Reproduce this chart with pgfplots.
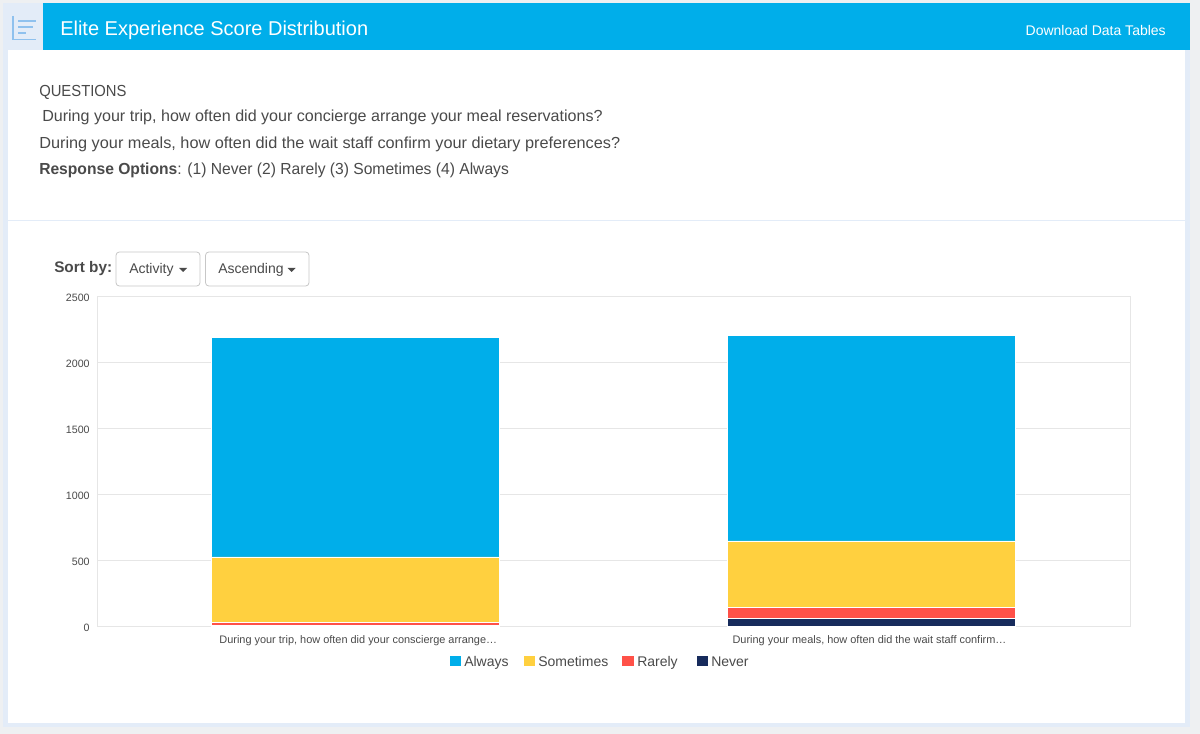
\documentclass[border=0pt]{standalone}
\usepackage{pgfplots}
\usepackage{fontspec}
\setmainfont{Liberation Sans}
\pgfplotsset{compat=1.18}
\definecolor{hdr}{HTML}{00AEEA}
\definecolor{yel}{HTML}{FFD03F}
\definecolor{redd}{HTML}{FF5148}
\definecolor{navy}{HTML}{172B5C}
\definecolor{framec}{HTML}{E3ECF8}
\definecolor{outer}{HTML}{EEF0F2}
\definecolor{txt}{HTML}{4A4A4A}
\definecolor{gridc}{HTML}{E6E6E6}
\definecolor{ico}{HTML}{8FC1EE}
\pgfplotstableread{
x never rarely sometimes always
0 5 25 493 1662
1 60 80 504 1556
}\datatable
\begin{document}
\begin{tikzpicture}[x=0.75pt,y=-0.75pt]
% page
\fill[outer] (0,0) rectangle (1200,734);
\fill[framec] (3,3) rectangle (1190,727);
\fill[white] (8,50) rectangle (1185,722.5);
\fill[hdr] (43,3) rectangle (1190,50);
% icon
\draw[ico,line width=0.9pt] (13,16) -- (13,39.5) -- (36,39.5);
\draw[ico,line width=2pt] (18,21) -- (36,21);
\draw[ico,line width=2pt] (18,27) -- (33,27);
\draw[ico,line width=2pt] (18,33) -- (26,33);
% header
\node[anchor=base west,white,inner sep=0,font=\fontsize{15}{18}\selectfont] at (60,36) {Elite Experience Score Distribution};
\node[anchor=base east,white,inner sep=0,font=\fontsize{10.5}{13}\selectfont] at (1166,36) {Download Data Tables};
% questions
\begin{scope}[every node/.style={anchor=base west,inner sep=0,text=txt,font=\fontsize{12}{14}\selectfont}]
\node at (39,96.5) {\scalebox{0.926}[1]{QUESTIONS}};
\node at (42,121.5) {\scalebox{1.005}[1]{During your trip, how often did your concierge arrange your meal reservations?}};
\node at (39,148.5) {\scalebox{1.018}[1]{During your meals, how often did the wait staff confirm your dietary preferences?}};
\node at (39,174.5) {\scalebox{0.977}[1]{\textbf{Response Options}: (1) Never (2) Rarely (3) Sometimes (4) Always}};
\node[font=\fontsize{11.5}{14}\selectfont\bfseries] at (54,272.5) {Sort by:};
\end{scope}
\draw[framec] (8,220.5) -- (1185,220.5);
% buttons
\draw[draw=black!22,rounded corners=2.5pt,line width=0.6pt] (116,252) rectangle (200,286);
\draw[draw=black!22,rounded corners=2.5pt,line width=0.6pt] (205.5,252) rectangle (309,286);
\node[anchor=base west,inner sep=0,text=txt,font=\fontsize{10.5}{13}\selectfont] at (129,274) {Activity};
\node[anchor=base west,inner sep=0,text=txt,font=\fontsize{10.5}{13}\selectfont] at (218,274) {Ascending};
\fill[txt] (179,268) -- (187,268) -- (183,272) -- cycle;
\fill[txt] (287.5,268) -- (295.5,268) -- (291.5,272) -- cycle;
% chart
\begin{axis}[
  at={(72.75pt,-469.5pt)},anchor=south west,
  scale only axis,width=774.75pt,height=247.5pt,
  xmin=-0.5,xmax=1.5,ymin=0,ymax=2500,
  ybar stacked,bar width=216pt,
  axis line style={draw=gridc},
  ytick={0,500,1000,1500,2000,2500},
  xtick={0,1},
  xticklabels={{\hspace*{4.5pt}During your trip, how often did your conscierge arrange\ldots},{During your meals, how often did the wait staff confirm\ldots\hspace*{3.4pt}}},
  x tick label style={font=\fontsize{8.2}{9}\selectfont,text=txt,yshift=-4pt},
  y tick label style={font=\fontsize{8}{9}\selectfont,text=txt,xshift=-2pt,yshift=-1.2pt},
  /pgf/number format/assume math mode=true,
  /pgf/number format/1000 sep={},
  scaled y ticks=false,
  ymajorgrids,grid style={draw=gridc},
  tick style={draw=none},
  major tick length=0pt,
  clip=false,
]
\addplot[fill=navy,draw=white,line width=0.4pt] table[x=x,y=never]{\datatable};
\addplot[fill=redd,draw=white,line width=0.4pt] table[x=x,y=rarely]{\datatable};
\addplot[fill=yel,draw=white,line width=0.4pt] table[x=x,y=sometimes]{\datatable};
\addplot[fill=hdr,draw=white,line width=0.4pt] table[x=x,y=always]{\datatable};
\end{axis}
% legend
\begin{scope}[every node/.style={anchor=base west,inner sep=0,text=txt,font=\fontsize{10.5}{13}\selectfont}]
\fill[hdr] (450,656) rectangle (461,666); \node at (464,666) {Always};
\fill[yel] (524,656) rectangle (535,666); \node at (538,666) {Sometimes};
\fill[redd] (622,656) rectangle (634,666); \node at (637,666) {Rarely};
\fill[navy] (697,656) rectangle (708,666); \node at (711,666) {Never};
\end{scope}
\useasboundingbox (0,0) rectangle (1200,734);
\end{tikzpicture}
\end{document}
